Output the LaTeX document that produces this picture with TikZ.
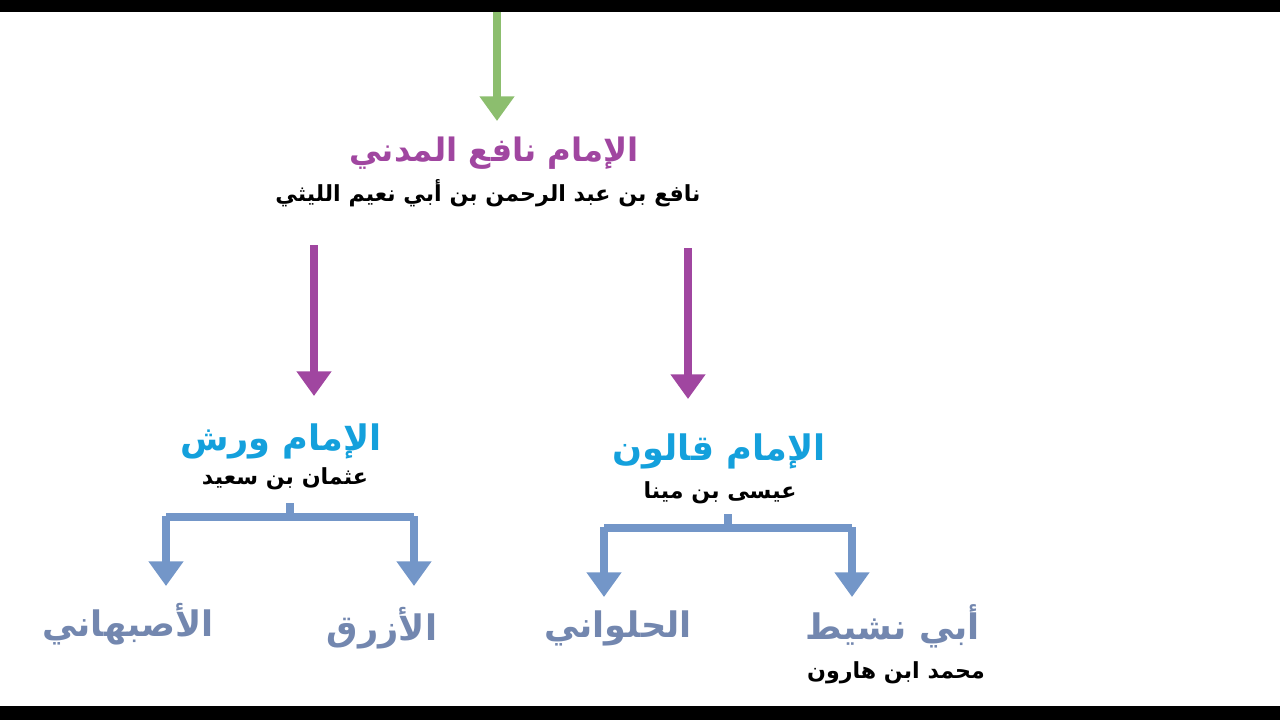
\documentclass[tikz,border=0pt]{standalone}
\usepackage{fontspec}
\newfontfamily\arabicfont[Script=Arabic]{DejaVu Sans}
\TeXXeTstate=1
\usetikzlibrary{arrows.meta,positioning,calc}
\definecolor{namegreen}{RGB}{140,190,110}
\definecolor{namepurple}{RGB}{160,70,160}
\definecolor{nameblue}{RGB}{20,160,220}
\definecolor{linkblue}{RGB}{115,150,200}
\definecolor{leafblue}{RGB}{115,135,175}
\tikzset{
  arr/.style={line width=2.3pt, -{Triangle[length=7pt,width=9.5pt]}},
  ttl/.style={font=\arabicfont\bfseries\fontsize{9.2}{11}\selectfont, text=namepurple, inner sep=0pt},
  imam/.style={font=\arabicfont\bfseries\fontsize{10}{12}\selectfont, text=nameblue, inner sep=0pt},
  leaf/.style={font=\arabicfont\bfseries\fontsize{10}{12}\selectfont, text=leafblue, inner sep=0pt},
  sub/.style={font=\arabicfont\bfseries\fontsize{6.3}{8}\selectfont, text=black, inner sep=0pt},
}
\begin{document}
\begin{tikzpicture}[x=0.01cm,y=-0.01cm]
\useasboundingbox (0,0) rectangle (1280,720);
\fill[black] (0,0) rectangle (1280,12);
\fill[black] (0,706) rectangle (1280,720);
% top
\coordinate (top) at (497,12);
\node[ttl] (nafi) at (494,153) {\beginR الإمام نافع المدني\endR};
\node[sub] (nafisub) at (488,193) {\beginR نافع بن عبد الرحمن بن أبي نعيم الليثي\endR};
\draw[arr, namegreen] (top) -- (497,121);
% two students
\node[imam] (warsh) at (281,441) {\beginR الإمام ورش\endR};
\node[sub] (warshsub) at (285,479) {\beginR عثمان بن سعيد\endR};
\node[imam] (qalun) at (719,451) {\beginR الإمام قالون\endR};
\node[sub] (qalunsub) at (720,493) {\beginR عيسى بن مينا\endR};
\draw[arr, namepurple] (314,245) -- (314,396);
\draw[arr, namepurple] (688,248) -- (688,399);
% leaves
\node[leaf] (asbahani) at (128,624) {\beginR الأصبهاني\endR};
\node[leaf] (azraq) at (382,628) {\beginR الأزرق\endR};
\node[leaf] (hulwani) at (618,628) {\beginR الحلواني\endR};
\node[leaf] (nashit) at (893,626) {\beginR أبي نشيط\endR};
\node[sub] (nashitsub) at (896,673) {\beginR محمد ابن هارون\endR};
% brackets
\foreach \mx/\ty/\lx/\rx in {290/503/166/414, 728/514/604/852} {
  \draw[linkblue, line width=2.3pt] (\mx,\ty) -- (\mx,\ty+14);
  \draw[linkblue, line width=2.3pt] (\lx,\ty+14) -- (\rx,\ty+14);
  \draw[arr, linkblue] (\lx,\ty+13) -- (\lx,\ty+83);
  \draw[arr, linkblue] (\rx,\ty+13) -- (\rx,\ty+83);
}
\end{tikzpicture}
\end{document}
